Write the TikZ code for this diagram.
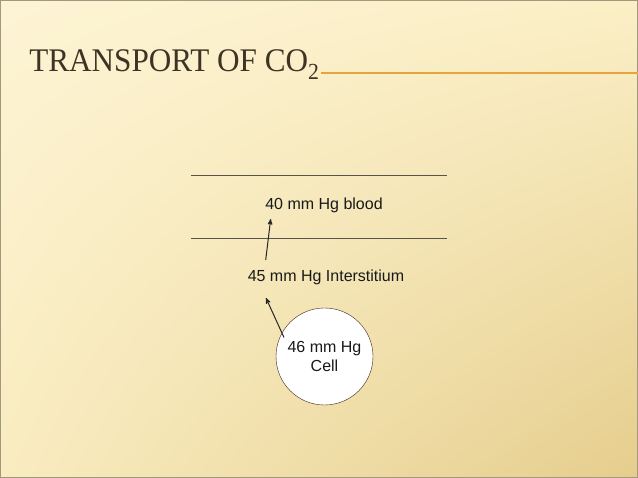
\documentclass[tikz,border=0pt]{standalone}
\usepackage{fontspec}
\setmainfont{Liberation Sans}
\newfontfamily\titlefont{Liberation Serif}
\usepackage{tikz}
\usetikzlibrary{arrows,shadings}

\definecolor{bgtl}{RGB}{253,244,212}
\definecolor{bgtr}{RGB}{251,239,198}
\definecolor{bgbl}{RGB}{249,236,192}
\definecolor{bgbr}{RGB}{229,205,140}
\definecolor{titlebrown}{RGB}{62,52,38}
\definecolor{ruleorange}{RGB}{232,162,62}
\definecolor{membrane}{RGB}{88,84,74}

\begin{document}
\begin{tikzpicture}[x=1pt,y=-1pt,->,>=stealth',semithick,
                    every node/.style={font=\fontsize{16}{19}\selectfont,text=black!90}]
  \tikzstyle{membrane line}=[-,draw=membrane,line width=1.3pt]
  \tikzstyle{flow}=[->,draw=black!85,line width=1pt]

  % slide background
  \useasboundingbox (0,0) rectangle (638,478);
  \shade[upper left=bgtl,upper right=bgtr,lower left=bgbl,lower right=bgbr]
        (0,0) rectangle (638,478);
  \draw[-,draw=black!35!bgbl,line width=1pt] (0.5,0.5) rectangle (637.5,477.5);

  % title
  \node[anchor=base west,inner sep=0pt,text=titlebrown,
        font=\titlefont\fontsize{33}{33}\selectfont] (title) at (29,72)
        {\scalebox{0.945}[1]{TRANSPORT OF CO\raisebox{-8pt}{\fontsize{23}{23}\selectfont 2}}};
  \draw[-,draw=ruleorange,line width=1.3pt] (title.base east) ++(2,1) -- (638,73);

  % capillary wall
  \draw[membrane line] (191,175.5) -- (447,175.5);
  \draw[membrane line] (191,238.5) -- (447,238.5);

  \node (blood) at (324,205) {40 mm Hg blood};
  \node (inter) at (326,277) {45 mm Hg Interstitium};
  \node[circle,draw=black!70!brown,thin,fill=white,minimum size=97pt,
        align=center,inner sep=0pt] (cell) at (324.5,356.5) {46 mm Hg\\Cell};

  \coordinate (up1) at (265.7,260);
  \coordinate (tip1) at (270.7,219);
  \coordinate (tip2) at (266,298);

  \draw[flow] (up1) -- (tip1);
  \draw[flow,shorten <=-5pt] (cell.151) -- (tip2);
\end{tikzpicture}
\end{document}
